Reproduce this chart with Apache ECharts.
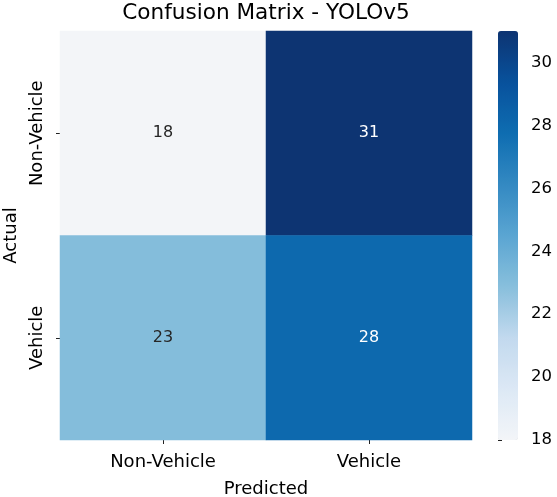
<!DOCTYPE html>
<html>
<head>
<meta charset="utf-8">
<script src="https://cdn.jsdelivr.net/npm/echarts@6/dist/echarts.min.js"></script>
<style>html,body{margin:0;padding:0;background:#fff;}#c{width:557px;height:497px;}</style>
</head>
<body>
<div id="c"></div>
<script>
var predictedLabels = ['Non-Vehicle', 'Vehicle'];
var actualLabels = ['Non-Vehicle', 'Vehicle'];
var rowNonVehicle = [18, 31];
var rowVehicle = [23, 28];
var colorbarTicks = [18, 20, 22, 24, 26, 28, 30];
var vMin = 18, vMax = 31;
var blues = ['#f3f5f8','#dce8f5','#c2d9ee','#88bfdc','#5aa5d2','#3389c2','#0e6db1','#08519c','#0d3472'];

var rows = [rowNonVehicle, rowVehicle];
var data = [];
rows.forEach(function (row, yi) {
  row.forEach(function (v, xi) {
    var dark = (v - vMin) / (vMax - vMin) > 0.5;
    data.push({ value: [xi, yi, v], label: { color: dark ? '#ffffff' : '#262626' } });
  });
});

var FONT = 'DejaVu Sans';
var chart = echarts.init(document.getElementById('c'));
chart.setOption({
  animation: false,
  textStyle: { fontFamily: FONT },
  graphic: [{
    type: 'text', x: 266, y: 13,
    style: { text: 'Confusion Matrix - YOLOv5', textAlign: 'center', textVerticalAlign: 'middle',
      font: '21.6px "DejaVu Sans"', fill: '#000' }
  }],
  grid: [
    { left: 60, top: 31, width: 412, height: 409, outerBoundsMode: 'none', containLabel: false },
    { left: 498, top: 31, width: 20, height: 409, outerBoundsMode: 'none', containLabel: false }
  ],
  xAxis: [{
    type: 'category', data: predictedLabels, gridIndex: 0, position: 'bottom',
    name: 'Predicted', nameLocation: 'middle', nameGap: 40,
    nameTextStyle: { fontSize: 18, color: '#000', fontFamily: FONT },
    axisLine: { show: false },
    axisTick: { show: true, alignWithLabel: true, length: 4, lineStyle: { color: '#222' } },
    axisLabel: { fontSize: 18, color: '#000', margin: 13, fontFamily: FONT },
    splitLine: { show: false }, splitArea: { show: false }
  }, {
    type: 'value', gridIndex: 1, show: false, min: 0, max: 1
  }],
  yAxis: [{
    type: 'category', data: actualLabels, gridIndex: 0, inverse: true,
    name: 'Actual', nameLocation: 'middle', nameGap: 37,
    nameTextStyle: { fontSize: 18, color: '#000', fontFamily: FONT },
    axisLine: { show: false },
    axisTick: { show: true, alignWithLabel: true, length: 4, lineStyle: { color: '#222' } },
    axisLabel: { fontSize: 18, color: '#000', rotate: 90, margin: 14, fontFamily: FONT },
    splitLine: { show: false }, splitArea: { show: false }
  }, {
    type: 'value', gridIndex: 1, position: 'right', min: vMin, max: vMax, interval: 2,
    axisLine: { show: false },
    axisTick: { show: true, length: 4, lineStyle: { color: '#222' } },
    axisLabel: { fontSize: 16.5, color: '#000', margin: 13, fontFamily: FONT, showMaxLabel: false,
      formatter: function (v) { return colorbarTicks.indexOf(v) >= 0 ? String(v) : ''; } },
    splitLine: { show: false }
  }],
  visualMap: {
    type: 'continuous', min: vMin, max: vMax, seriesIndex: 0,
    left: 498, top: 31, itemWidth: 20, itemHeight: 409, padding: 0,
    calculable: false, text: null, showLabel: false, hoverLink: false,
    inRange: { color: blues }
  },
  series: [{
    type: 'heatmap', xAxisIndex: 0, yAxisIndex: 0, data: data,
    label: { show: true, fontSize: 16, fontFamily: FONT },
    itemStyle: { borderWidth: 0 },
    emphasis: { disabled: true }
  }]
});
</script>
</body>
</html>
